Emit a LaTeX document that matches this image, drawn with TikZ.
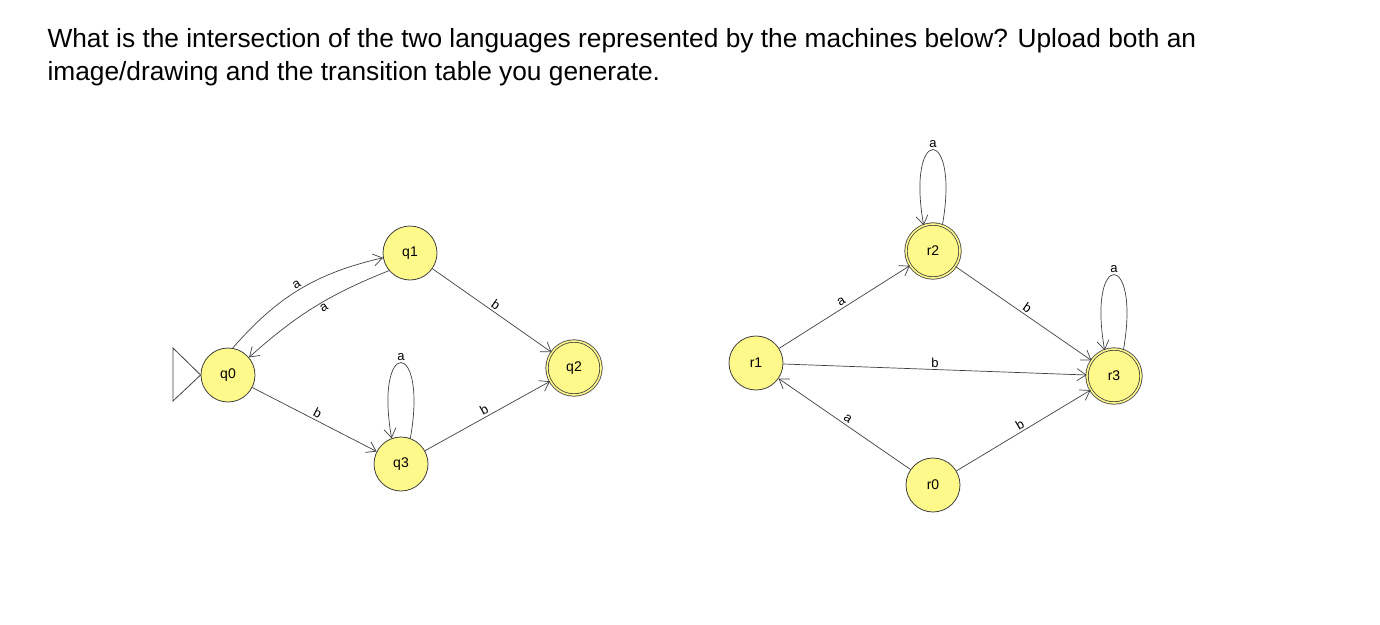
\documentclass[tikz,border=0pt]{standalone}
\usepackage{fontspec}
\setmainfont{Liberation Sans}
\usetikzlibrary{arrows.meta}
\begin{document}
\begin{tikzpicture}[x=1pt,y=-1pt,
  st/.style={circle,draw=black!75,fill=yellow!45,minimum size=54pt,inner sep=0pt,font=\fontsize{14}{14}\selectfont,line width=0.8pt},
  acc/.style={st,double=yellow!45,double distance=1.6pt},
  tr/.style={draw=black!75,line width=0.7pt,-{Straight Barb[length=9pt,width=12pt]}},
  lp/.style={tr,looseness=14},
  lb/.style={font=\fontsize{13}{13}\selectfont,inner sep=2pt}]
\useasboundingbox (0,0) rectangle (1380,624);
\node[anchor=base west,align=left,font=\fontsize{26.3}{33}\selectfont] (t) at (44,80) {What is the intersection of the two languages represented by the machines below? Upload both an\\image/drawing and the transition table you generate.};
\node[st] (q0) at (228,375) {q0};
\node[st] (q1) at (410,253) {q1};
\node[acc] (q2) at (574,368) {q2};
\node[st] (q3) at (401,464) {q3};
\node[st] (r1) at (756,363) {r1};
\node[acc] (r2) at (933,251) {r2};
\node[acc] (r3) at (1114,376) {r3};
\node[st] (r0) at (933,485) {r0};
\draw[black!75,line width=0.8pt] (173,348) -- (173,401) -- (q0.west) -- cycle;
\draw[tr] (q0.80) to[bend left=18] node[lb,sloped,above] {a} (q1.190);
\draw[tr] (q1.220) to[bend right=10] node[lb,sloped,below,pos=0.45] {a} (q0.40);
\draw[tr] (q1) -- node[lb,sloped,above] {b} (q2);
\draw[tr] (q0) -- node[lb,sloped,above] {b} (q3);
\draw[tr] (q3) -- node[lb,sloped,above] {b} (q2);
\draw[lp] (q3.70) to[out=80,in=100] node[lb,above] {a} (q3.110);
\draw[tr] (r1) -- node[lb,sloped,above] {a} (r2);
\draw[tr] (r1) -- node[lb,above] {b} (r3);
\draw[tr] (r2) -- node[lb,sloped,above] {b} (r3);
\draw[tr] (r0) -- node[lb,sloped,above] {a} (r1);
\draw[tr] (r0) -- node[lb,sloped,above] {b} (r3);
\draw[lp] (r2.70) to[out=80,in=100] node[lb,above] {a} (r2.110);
\draw[lp] (r3.70) to[out=80,in=100] node[lb,above] {a} (r3.110);
\end{tikzpicture}
\end{document}
